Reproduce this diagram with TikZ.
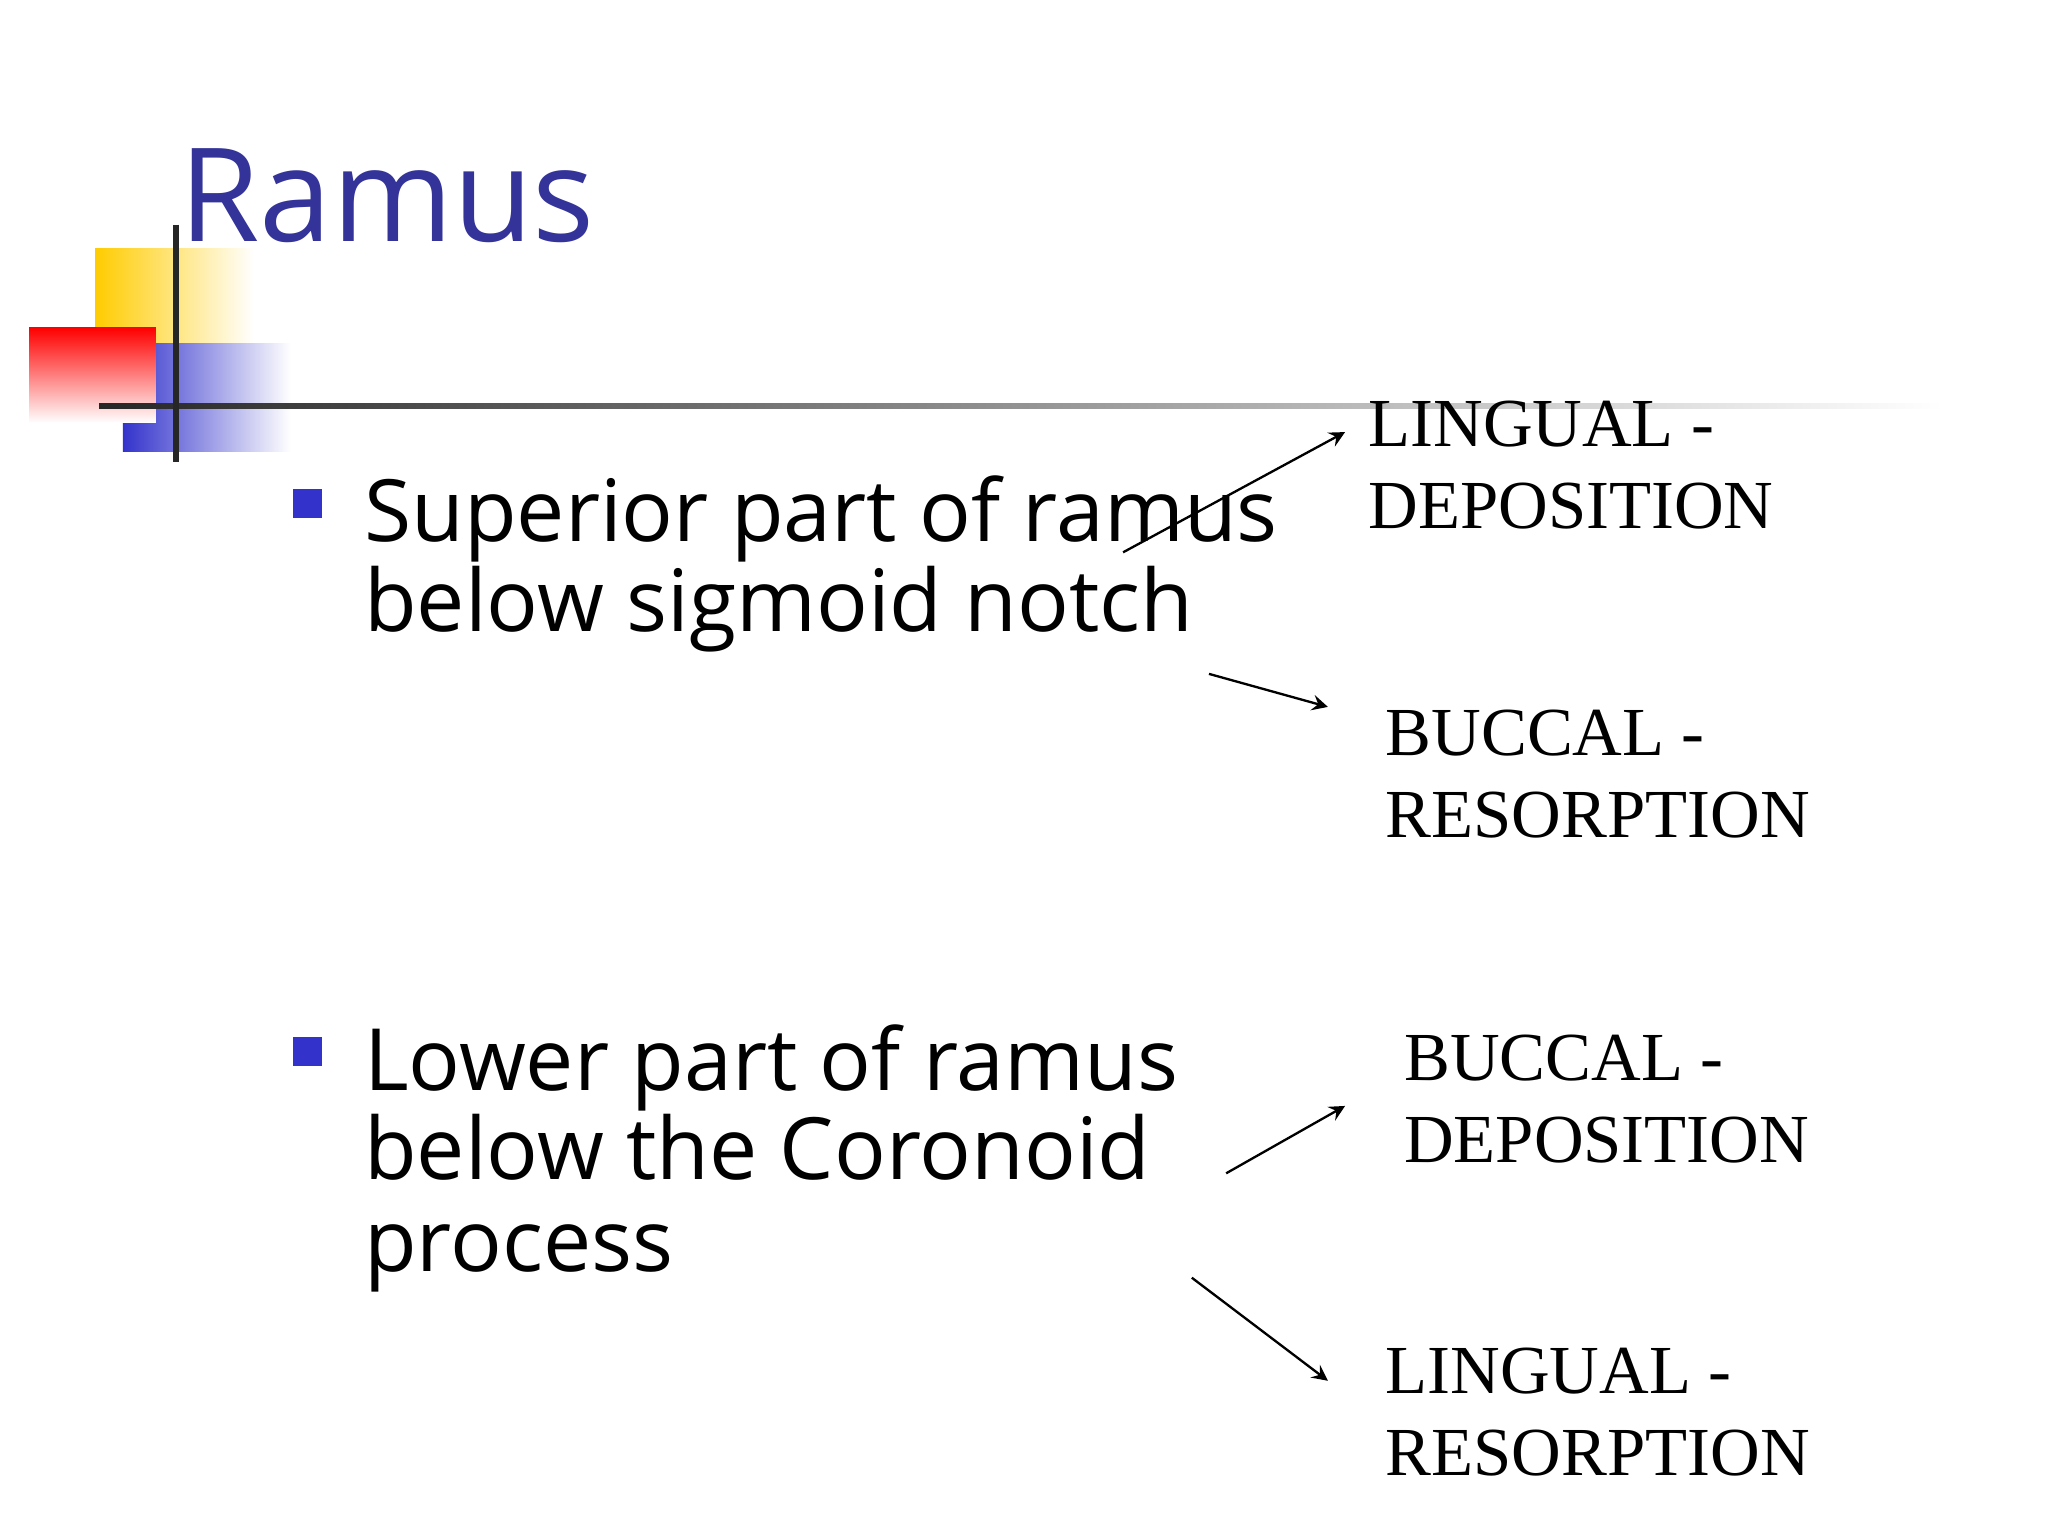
\documentclass[tikz,border=0pt]{standalone}
\usepackage{fontspec}
\setmainfont{Open Sans}
\newfontfamily\seriffont{Liberation Serif}
\definecolor{titleblue}{RGB}{51,51,153}
\definecolor{bulblue}{RGB}{51,51,204}
\definecolor{sqyellow}{RGB}{255,204,0}
\begin{document}
\begin{tikzpicture}[x=0.01cm,y=-0.01cm,
  body/.style={anchor=base west,inner sep=0pt,align=left,font=\fontsize{18.5pt}{20pt}\selectfont},
  lab/.style={anchor=base west,inner sep=0pt,align=left,font=\seriffont\fontsize{14.8pt}{17.6pt}\selectfont},
  arr/.style={-stealth,line width=0.5pt}]
\useasboundingbox (0,0) rectangle (1550,1162.5);
% decoration
\shade[left color=sqyellow,right color=white] (72,188) rectangle (192,305);
\shade[left color=bulblue,right color=white] (93,260) rectangle (220,342);
\shade[shading angle=225,top color=red,bottom color=white] (22,248) rectangle (118,320);
\shade[left color=black!85,right color=white] (75,305) rectangle (1470,309);
\draw[line width=1.2pt,black!85] (133,170) -- (133,350);
% title
\node[anchor=base west,inner sep=0pt,text=titleblue,font=\fontsize{28pt}{30pt}\selectfont] (title) at (135,183) {Ramus};
% bullets
\fill[bulblue] (222,370) rectangle (244,392);
\fill[bulblue] (222,785) rectangle (244,807);
\node[body] (b1a) at (275,410) {Superior part of ramus};
\node[body] (b1b) at (275,478) {below sigmoid notch};
\node[body] (b2a) at (275,825) {Lower part of ramus};
\node[body] (b2b) at (275,893) {below the Coronoid};
\node[body] (b2c) at (275,962) {process};
% labels
\node[lab] (l1a) at (1035,338) {LINGUAL -};
\node[lab] (l1b) at (1035,400) {DEPOSITION};
\node[lab] (l2a) at (1048,572) {BUCCAL -};
\node[lab] (l2b) at (1048,634) {RESORPTION};
\node[lab] (l3a) at (1062,818) {BUCCAL -};
\node[lab] (l3b) at (1062,880) {DEPOSITION};
\node[lab] (l4a) at (1048,1055) {LINGUAL -};
\node[lab] (l4b) at (1048,1117) {RESORPTION};
% arrows
\coordinate (s1) at (850,418); \coordinate (e1) at (1018,327);
\coordinate (s2) at (915,510); \coordinate (e2) at (1005,535);
\coordinate (s3) at (928,888); \coordinate (e3) at (1018,837);
\coordinate (s4) at (902,967); \coordinate (e4) at (1005,1045);
\draw[arr] (s1) -- (e1);
\draw[arr] (s2) -- (e2);
\draw[arr] (s3) -- (e3);
\draw[arr] (s4) -- (e4);
\end{tikzpicture}
\end{document}
